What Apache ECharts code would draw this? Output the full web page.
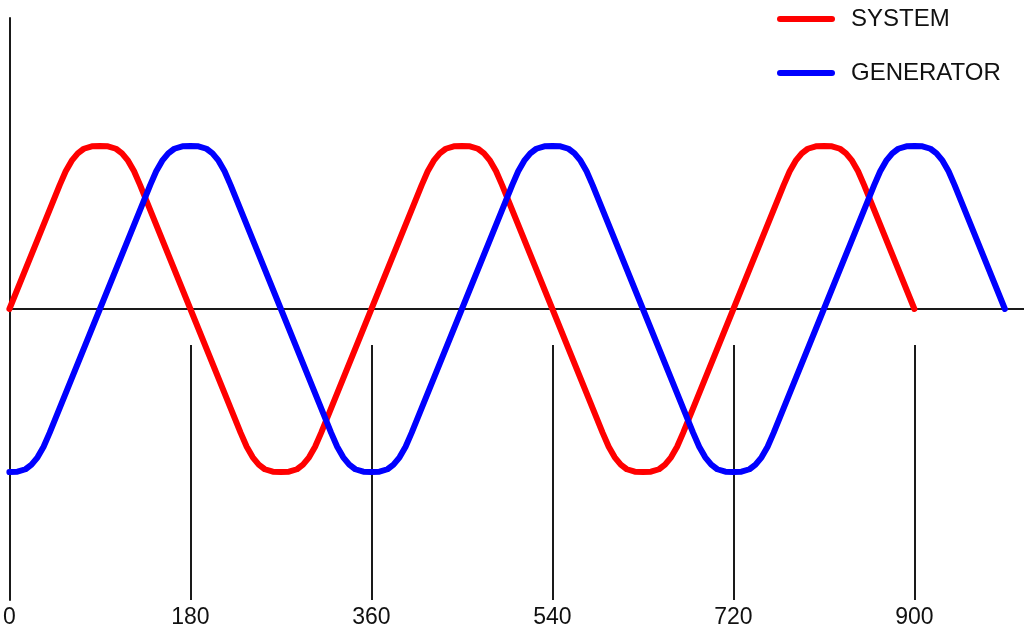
<!DOCTYPE html>
<html>
<head>
<meta charset="utf-8">
<script src="https://cdn.jsdelivr.net/npm/echarts@6/dist/echarts.min.js"></script>
<style>
  html, body { margin: 0; padding: 0; background: #ffffff; }
  #chart { width: 1024px; height: 633px; }
</style>
</head>
<body>
<div id="chart"></div>
<script>
// Tick labels on the degree axis
const tickLabels = [0, 180, 360, 540, 720, 900];
const tickLines = [180, 360, 540, 720, 900];

// SYSTEM waveform (degrees, value)
const systemDeg = [
  0, 50, 56, 62, 68, 74, 82, 90, 98, 106, 112, 118, 124, 130,
  180, 230, 236, 242, 248, 254, 262, 270, 278, 286, 292, 298, 304, 310,
  360, 410, 416, 422, 428, 434, 442, 450, 458, 466, 472, 478, 484, 490,
  540, 590, 596, 602, 608, 614, 622, 630, 638, 646, 652, 658, 664, 670,
  720, 770, 776, 782, 788, 794, 802, 810, 818, 826, 832, 838, 844, 850,
  900
];
const systemVal = [
  0, 0.76, 0.845, 0.91, 0.955, 0.983, 0.998, 1, 0.998, 0.983, 0.955, 0.91, 0.845, 0.76,
  0, -0.76, -0.845, -0.91, -0.955, -0.983, -0.998, -1, -0.998, -0.983, -0.955, -0.91, -0.845, -0.76,
  0, 0.76, 0.845, 0.91, 0.955, 0.983, 0.998, 1, 0.998, 0.983, 0.955, 0.91, 0.845, 0.76,
  0, -0.76, -0.845, -0.91, -0.955, -0.983, -0.998, -1, -0.998, -0.983, -0.955, -0.91, -0.845, -0.76,
  0, 0.76, 0.845, 0.91, 0.955, 0.983, 0.998, 1, 0.998, 0.983, 0.955, 0.91, 0.845, 0.76,
  0
];

// GENERATOR waveform (degrees, value)
const generatorDeg = [
  0, 8, 16, 22, 28, 34, 40,
  90, 140, 146, 152, 158, 164, 172, 180, 188, 196, 202, 208, 214, 220,
  270, 320, 326, 332, 338, 344, 352, 360, 368, 376, 382, 388, 394, 400,
  450, 500, 506, 512, 518, 524, 532, 540, 548, 556, 562, 568, 574, 580,
  630, 680, 686, 692, 698, 704, 712, 720, 728, 736, 742, 748, 754, 760,
  810, 860, 866, 872, 878, 884, 892, 900, 908, 916, 922, 928, 934, 940,
  990
];
const generatorVal = [
  -1, -0.998, -0.983, -0.955, -0.91, -0.845, -0.76,
  0, 0.76, 0.845, 0.91, 0.955, 0.983, 0.998, 1, 0.998, 0.983, 0.955, 0.91, 0.845, 0.76,
  0, -0.76, -0.845, -0.91, -0.955, -0.983, -0.998, -1, -0.998, -0.983, -0.955, -0.91, -0.845, -0.76,
  0, 0.76, 0.845, 0.91, 0.955, 0.983, 0.998, 1, 0.998, 0.983, 0.955, 0.91, 0.845, 0.76,
  0, -0.76, -0.845, -0.91, -0.955, -0.983, -0.998, -1, -0.998, -0.983, -0.955, -0.91, -0.845, -0.76,
  0, 0.76, 0.845, 0.91, 0.955, 0.983, 0.998, 1, 0.998, 0.983, 0.955, 0.91, 0.845, 0.76,
  0
];

const systemData = systemDeg.map((d, i) => [d, systemVal[i]]);
const generatorData = generatorDeg.map((d, i) => [d, generatorVal[i]]);

const chart = echarts.init(document.getElementById('chart'), null, { renderer: 'canvas' });
const axisColor = '#1a1a1a';
const font = 'Liberation Sans, Arial, sans-serif';

chart.setOption({
  animation: false,
  backgroundColor: '#ffffff',
  grid: { left: 7, right: 0, top: 18, bottom: 33, containLabel: false },
  legend: {
    orient: 'vertical',
    left: 772,
    top: 1,
    itemWidth: 58,
    itemHeight: 6,
    itemGap: 28,
    icon: 'path://M3,0 L55,0 A3,3 0 0 1 55,6 L3,6 A3,3 0 0 1 3,0 Z',
    textStyle: {
      fontFamily: font,
      fontSize: 24,
      color: '#111111',
      lineHeight: 26,
      padding: [0, 0, 0, 11]
    },
    data: ['SYSTEM', 'GENERATOR']
  },
  xAxis: [
    {
      type: 'value',
      position: 'top',
      min: 0,
      max: 1009,
      axisLine: { show: true, onZero: true, lineStyle: { color: axisColor, width: 2 } },
      axisTick: { show: false },
      axisLabel: { show: false },
      splitLine: { show: false }
    },
    {
      type: 'value',
      position: 'bottom',
      min: 0,
      max: 1009,
      axisLine: { show: false, onZero: false },
      axisTick: {
        show: true,
        inside: true,
        length: 255,
        customValues: tickLines,
        lineStyle: { color: axisColor, width: 2 }
      },
      axisLabel: {
        show: true,
        customValues: tickLabels,
        margin: 6,
        fontFamily: font,
        fontSize: 23,
        color: '#111111'
      },
      splitLine: { show: false }
    }
  ],
  yAxis: {
    type: 'value',
    min: -1.785,
    max: 1.785,
    axisLine: { show: true, onZero: false, lineStyle: { color: axisColor, width: 2 } },
    axisTick: { show: false },
    axisLabel: { show: false },
    splitLine: { show: false }
  },
  series: [
    {
      name: 'SYSTEM',
      type: 'line',
      xAxisIndex: 0,
      data: systemData,
      showSymbol: false,
      symbol: 'none',
      clip: false,
      color: '#ff0000',
      lineStyle: { color: '#ff0000', width: 6, cap: 'round', join: 'round' }
    },
    {
      name: 'GENERATOR',
      type: 'line',
      xAxisIndex: 0,
      data: generatorData,
      showSymbol: false,
      symbol: 'none',
      clip: false,
      color: '#0000ff',
      lineStyle: { color: '#0000ff', width: 6, cap: 'round', join: 'round' }
    }
  ]
});
</script>
</body>
</html>
